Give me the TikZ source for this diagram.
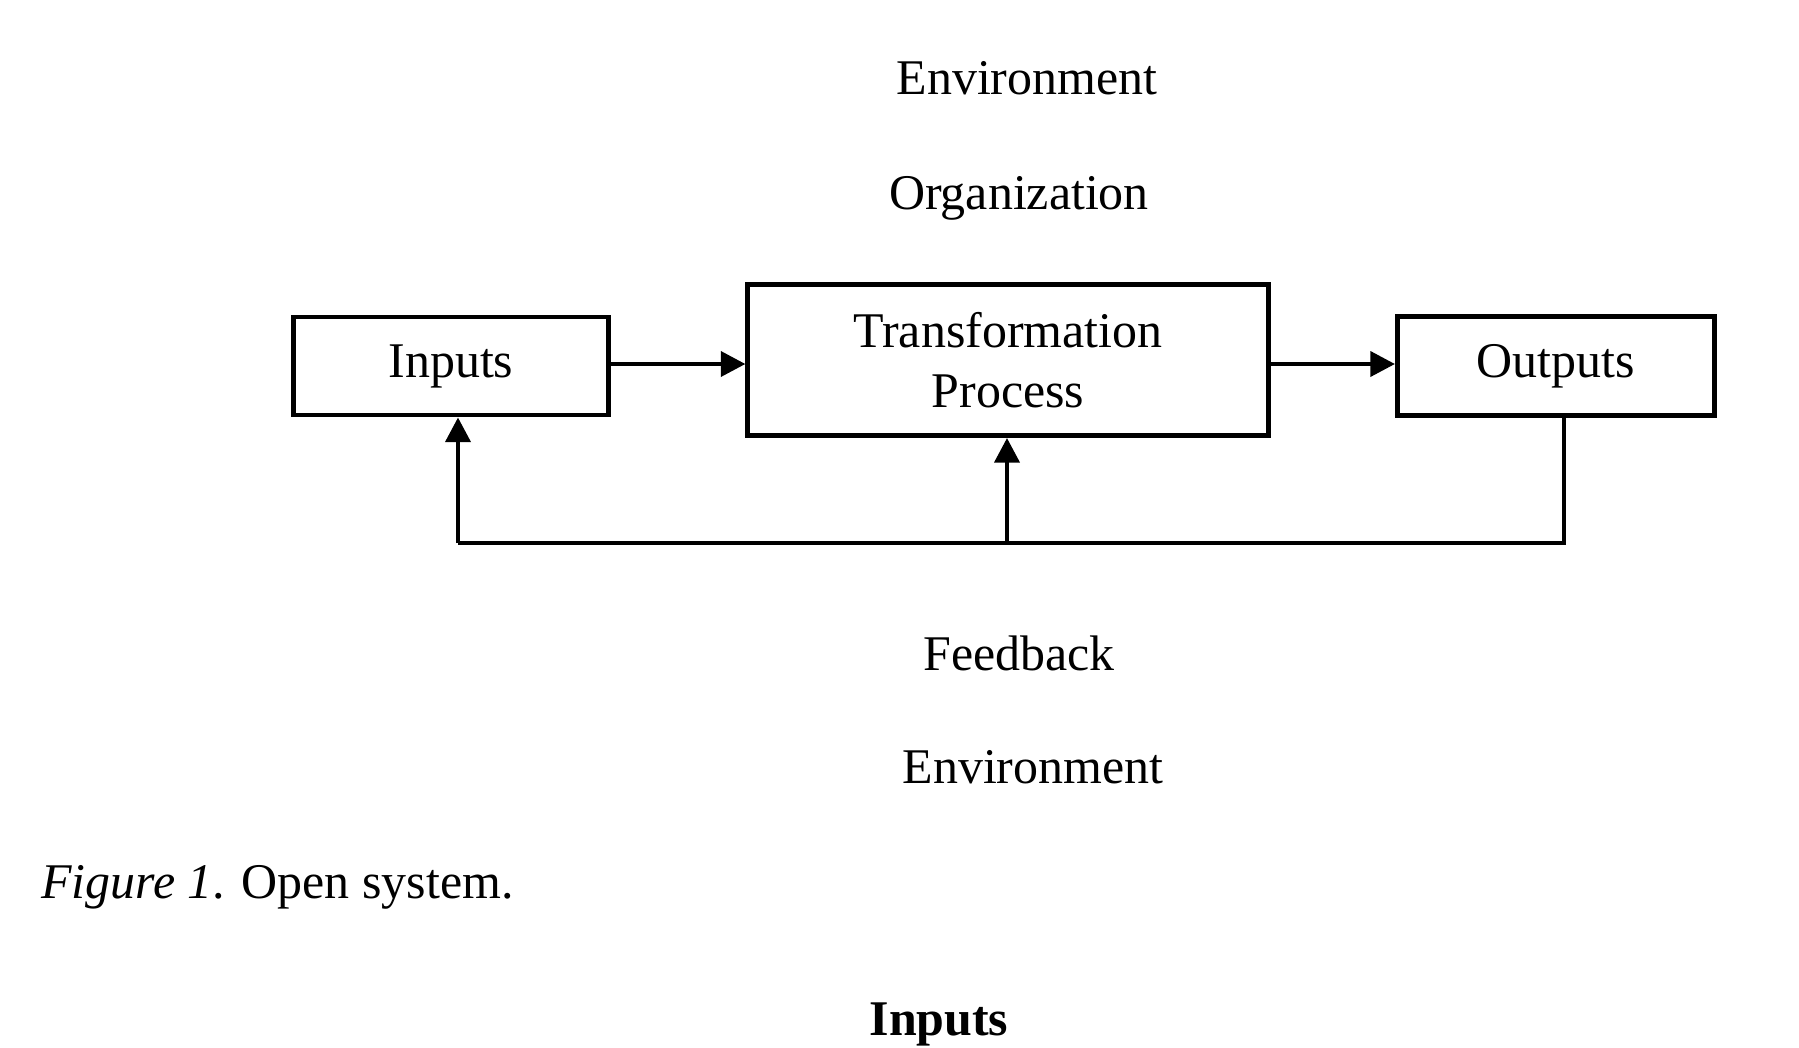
\documentclass[tikz,border=0pt]{standalone}
\usepackage{fontspec}
\setmainfont{Liberation Serif}
\usetikzlibrary{arrows.meta,calc}

\begin{document}
\begin{tikzpicture}[x=0.01cm, y=-0.01cm, >={Triangle[length=7pt,width=7pt]}, font=\fontsize{14.2}{17}\selectfont, line width=1.35pt]
		\tikzset{blk/.style={draw, line width=1.35pt, inner sep=0pt, align=center}}
		\useasboundingbox (0,0) rectangle (1799,1048);
		% labels above
		\node (envtop) at (1027,78) {Environment};
		\node (org) at (1019,198) {Organization};
		% the three boxes
		\node[blk, minimum width=3.15cm, minimum height=0.98cm] (in) at (451,366) {Inputs};
		\node[blk, minimum width=5.20cm, minimum height=1.51cm] (tp) at (1008,360) {Transformation\\Process};
		\node[blk, minimum width=3.17cm, minimum height=0.99cm] (out) at (1556,366) {Outputs};
		\coordinate (ar) at (0,364);
		\draw[->] (in.east |- ar) -- (tp.west |- ar);
		\draw[->] (tp.east |- ar) -- (out.west |- ar);
		% feedback loop
		\coordinate (fbL) at (458,543);
		\coordinate (fbM) at (1007,543);
		\coordinate (fbR) at (1564,543);
		\draw (out.south -| fbR) -- (fbR) -- (fbL);
		\draw[->] (fbL) -- (in.south -| fbL);
		\draw[->] (fbM) -- (tp.south -| fbM);
		% labels below
		\node (fb) at (1019,653) {Feedback};
		\node (envbot) at (1033,767) {Environment};
		\node[anchor=west] (cap) at (27,887) {\textit{Figure 1}. Open system.};
		\node (head) at (939,1024) {\textbf{Inputs}};
	\end{tikzpicture}
\end{document}
